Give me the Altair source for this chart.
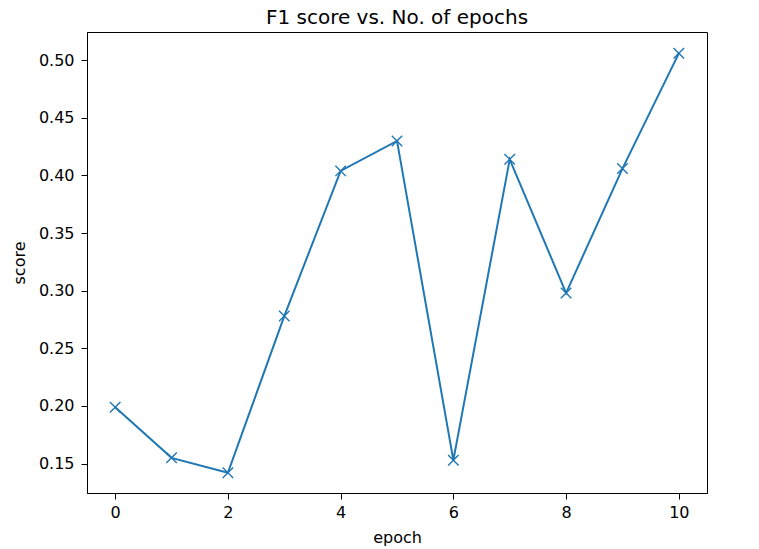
import altair as alt
import pandas as pd

epochs = [0, 1, 2, 3, 4, 5, 6, 7, 8, 9, 10]
scores = [0.199, 0.155, 0.142, 0.278, 0.404, 0.430, 0.153, 0.414, 0.298, 0.406, 0.506]
x_ticks = [0, 2, 4, 6, 8, 10]
y_ticks = [0.15, 0.20, 0.25, 0.30, 0.35, 0.40, 0.45, 0.50]

df = pd.DataFrame({"epoch": epochs, "score": scores})
color = "#1f77b4"
font = "DejaVu Sans"

x = alt.X("epoch:Q", scale=alt.Scale(domain=[-0.5, 10.5], nice=False, zero=False),
          axis=alt.Axis(values=x_ticks, format="d", title="epoch"))
y = alt.Y("score:Q", scale=alt.Scale(domain=[0.1245, 0.5245], nice=False, zero=False),
          axis=alt.Axis(values=y_ticks, format=".2f", title="score"))

line = alt.Chart(df).mark_line(color=color, strokeWidth=2).encode(x=x, y=y)
pts = alt.Chart(df).mark_point(shape="M-1,-1L1,1M1,-1L-1,1", color=color, size=110,
                               strokeWidth=1.4, filled=False, opacity=1).encode(x=x, y=y)

chart = (line + pts).properties(
    width=620, height=461,
    title=alt.TitleParams("F1 score vs. No. of epochs", fontSize=20, font=font,
                          fontWeight="normal", color="black", offset=4),
    autosize=alt.AutoSizeParams(type="none"),
    padding={"left": 79, "top": 24, "right": 44, "bottom": 53},
).configure_view(stroke="black", strokeWidth=1).configure_axis(
    grid=False, domainColor="black", tickColor="black", tickSize=6, tickWidth=1,
    labelFont=font, labelFontSize=16, labelColor="black", labelPadding=5,
    titleFont=font, titleFontSize=16, titleFontWeight="normal", titleColor="black",
    domainWidth=1,
).configure_axisX(titlePadding=9).configure_axisY(titlePadding=11, labelPadding=7)

chart.save("out.html", embed_options={"renderer": "svg", "actions": False})
